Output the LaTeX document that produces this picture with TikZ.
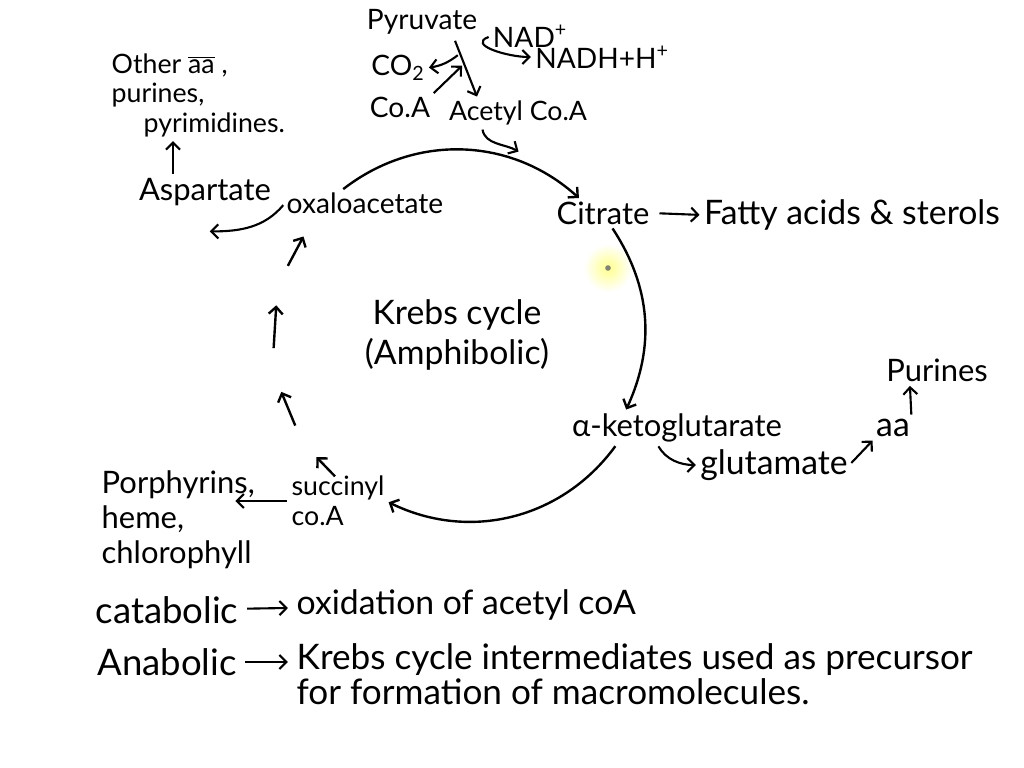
\documentclass[tikz,border=0pt]{standalone}
\usepackage{fontspec}
\setmainfont{Lato}
\usetikzlibrary{positioning, arrows.meta, calc}

\begin{document}
\begin{tikzpicture}[
    x=0.025cm, y=-0.025cm,
    font=\fontsize{22}{25}\selectfont,
    lbl/.style={inner sep=1pt},
    arr/.style={->, line width=1.5pt, >={Straight Barb[length=5pt,width=10pt]}, shorten <=2pt, shorten >=2pt},
    cyc/.style={arr, line width=1.7pt}
]
    \useasboundingbox (0,0) rectangle (1024,768);

    % pen cursor
    \shade[inner color=yellow!45, outer color=white] (608,268) circle (0.6cm);
    \fill[gray] (608,268) circle (0.07cm);

    % pyruvate -> acetyl CoA
    \node[lbl, font=\fontsize{20}{23}\selectfont] (pyr) at (422,22) {Pyruvate};
    \node[lbl, font=\fontsize{20}{23}\selectfont] (co2) at (398,68) {CO\textsubscript{2}};
    \node[lbl, font=\fontsize{20}{23}\selectfont] (coa) at (400,107) {Co.A};
    \node[lbl, font=\fontsize{20}{23}\selectfont] (nad) at (530,36) {NAD\textsuperscript{+}};
    \node[lbl, font=\fontsize{20}{23}\selectfont] (nadh) at (602,57) {NADH+H\textsuperscript{+}};
    \node[lbl, font=\fontsize{19}{22}\selectfont] (acoa) at (518,113) {Acetyl Co.A};

    \coordinate (pyrout) at ($(pyr.south)+(32,2)$);
    \coordinate (acin) at ($(acoa.north)+(-40,0)$);
    \draw[arr] (pyrout) -- (acin);
    \draw[arr] ($(pyrout)!0.25!(acin)$) to[bend left=15] (co2.east);
    \draw[arr] (coa.north east) -- ($(pyrout)!0.42!(acin)$);
    \draw[arr] (nad.west) to[out=200, in=180, looseness=1.4] (nadh.west);

    % cycle
    \node[lbl, font=\fontsize{20}{23}\selectfont] (oaa) at (365,203) {oxaloacetate};
    \node[lbl] (cit) at (603,213) {Citrate};
    \node[lbl] (akg) at (677,428) {α-ketoglutarate};
    \node[lbl, align=left, font=\fontsize{19}{21}\selectfont] (suc) at (338,501) {succinyl\\co.A};
    \node[lbl, align=center, font=\fontsize{24}{28}\selectfont] (krebs) at (457,335) {Krebs cycle\\(Amphibolic)};

    \coordinate (cen) at (459,338);
    \coordinate (entry) at (521,153);
    \draw[arr] ([xshift=-0.9cm]acoa.south) to[out=-80, in=150] (entry);
    \draw[cyc] ([xshift=-0.6cm]oaa.north) to[bend left=40] ([xshift=-0.55cm]cit.north);
    \draw[cyc] ([xshift=0.2cm]cit.south) to[bend left=29] ([xshift=-1.3cm]akg.north);
    \draw[cyc] ([xshift=-1.5cm]akg.south) to[bend left=40] (suc.east);
    \foreach \a/\b in {131/141, 151/164, 176/191, 202/214}
        \draw[cyc] ($(cen)+({186*cos(\a)},{186*sin(\a)})$) -- ($(cen)+({186*cos(\b)},{186*sin(\b)})$);

    % branches
    \node[lbl] (asp) at (205,192) {Aspartate};
    \node[lbl, anchor=west, align=left, font=\fontsize{19}{21}\selectfont] (other) at (110,95)
        {Other $\overline{\mbox{aa}}$ ,\\purines,\\\hspace*{0.8cm}pyrimidines.};
    \draw[arr] (oaa.west) to[out=-130, in=0] ($(asp.south)+(2,24)$);
    \draw[arr] ([xshift=-0.8cm]asp.north) -- ([xshift=-0.8cm]asp.north |- other.south);

    \node[lbl, font=\fontsize{24}{28}\selectfont] (fatty) at (852,215) {Fatty acids \& sterols};
    \draw[arr, shorten <=6pt] (cit.east) -- (fatty.west);

    \node[lbl, font=\fontsize{24}{28}\selectfont] (glu) at (774,465) {glutamate};
    \node[lbl, font=\fontsize{24}{28}\selectfont] (aa) at (893,428) {aa};
    \node[lbl] (pur) at (937,370) {Purines};
    \draw[arr] ([xshift=-0.5cm]akg.south) to[out=-60, in=180] (glu.west);
    \draw[arr] (glu.east) -- (aa.south west);
    \draw[arr] (aa.north east) -- ([xshift=-0.68cm]pur.south);

    \node[lbl, anchor=west, align=left] (por) at (100,520) {Porphyrins,\\heme,\\chlorophyll};
    \draw[arr] (suc.west) -- ([xshift=-0.6cm]por.east |- suc.west);

    % notes
    \node[lbl, font=\fontsize{26}{28}\selectfont] (cat) at (167,610) {catabolic};
    \node[lbl, anchor=west, font=\fontsize{24}{28}\selectfont] (catdef) at (295,605) {oxidation of acetyl coA};
    \draw[arr, shorten <=5pt, shorten >=5pt] (cat) -- (catdef);
    \node[lbl, font=\fontsize{26}{28}\selectfont] (ana) at (167,662) {Anabolic};
    \node[lbl, anchor=west, align=left, font=\fontsize{25}{25}\selectfont] (anadef) at (295,674)
        {Krebs cycle intermediates used as precursor\\for formation of macromolecules.};
    \draw[arr, shorten <=5pt, shorten >=5pt] (ana) -- (anadef.west |- ana);
\end{tikzpicture}
\end{document}
